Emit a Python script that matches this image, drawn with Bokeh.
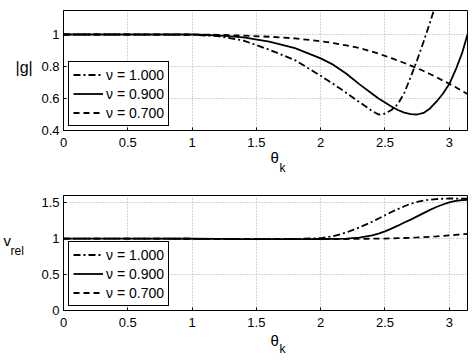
import math
from bokeh.plotting import figure
from bokeh.layouts import column
from bokeh.models import Label, Legend, LegendItem, FixedTicker
from bokeh.embed import file_html
from bokeh.resources import INLINE

# ---------------- data ----------------
theta = [0.0, 0.5, 1.0, 1.2, 1.4, 1.6, 1.8, 2.0, 2.1, 2.2, 2.3, 2.4, 2.45, 2.5,
         2.55, 2.6, 2.65, 2.7, 2.75, 2.8, 2.85, 2.9, 2.95, 3.0, 3.05, 3.1, math.pi]

nan = float("nan")
g_nu100 = [1.0, 1.0, 0.998, 0.99, 0.962, 0.905, 0.84, 0.742, 0.69, 0.635, 0.578, 0.522, 0.50, 0.505,
           0.528, 0.565, 0.635, 0.735, 0.84, 0.955, 1.075, 1.2, nan, nan, nan, nan, nan]
g_nu090 = [1.0, 1.0, 1.0, 0.995, 0.982, 0.955, 0.915, 0.851, 0.81, 0.755, 0.69, 0.63, 0.60, 0.575,
           0.55, 0.528, 0.512, 0.502, 0.50, 0.51, 0.538, 0.58, 0.63, 0.69, 0.78, 0.885, 1.0]
g_nu070 = [1.0, 1.0, 1.0, 0.998, 0.993, 0.986, 0.976, 0.958, 0.946, 0.932, 0.915, 0.893, 0.88, 0.866,
           0.852, 0.838, 0.822, 0.806, 0.79, 0.772, 0.753, 0.733, 0.712, 0.692, 0.67, 0.647, 0.628]

v_nu100 = [1.0, 1.0, 0.998, 0.996, 0.994, 0.993, 0.995, 1.006, 1.035, 1.085, 1.155, 1.235, 1.28, 1.325,
           1.37, 1.41, 1.45, 1.485, 1.51, 1.53, 1.542, 1.55, 1.555, 1.558, 1.558, 1.556, 1.555]
v_nu090 = [1.0, 1.0, 0.998, 0.996, 0.994, 0.993, 0.994, 0.995, 0.997, 1.0, 1.015, 1.045, 1.07, 1.10,
           1.14, 1.18, 1.225, 1.265, 1.31, 1.355, 1.40, 1.44, 1.475, 1.505, 1.525, 1.537, 1.54]
v_nu070 = [1.0, 1.0, 0.998, 0.996, 0.994, 0.993, 0.994, 0.993, 0.994, 0.995, 0.997, 0.999, 1.0, 1.001,
           1.003, 1.006, 1.009, 1.012, 1.016, 1.021, 1.026, 1.032, 1.039, 1.046, 1.053, 1.061, 1.065]

series_labels = ["\u03bd = 1.000", "\u03bd = 0.900", "\u03bd = 0.700"]
x_ticks = [0, 0.5, 1, 1.5, 2, 2.5, 3]
x_tick_labels = ["0", "0.5", "1", "1.5", "2", "2.5", "3"]
y1_ticks = [0.4, 0.6, 0.8, 1.0]
y1_tick_labels = ["0.4", "0.6", "0.8", "1"]
y2_ticks = [0, 0.5, 1.0, 1.5]
y2_tick_labels = ["0", "0.5", "1", "1.5"]

FONT = "Liberation Sans"
styles = [dict(line_dash="7 3 2 3"), dict(line_dash="solid"), dict(line_dash="6 4")]


def make_fig(height, border_top, border_bottom, y_range, yticks, ylabels, series):
    p = figure(width=470, height=height, x_range=(0, math.pi), y_range=y_range,
               output_backend="svg", toolbar_location=None,
               min_border_left=63, min_border_right=3,
               min_border_top=border_top, min_border_bottom=border_bottom)
    p.background_fill_color = "white"
    p.border_fill_color = "white"
    p.outline_line_color = "black"
    p.outline_line_width = 1
    p.outline_line_alpha = 1

    p.xaxis.ticker = FixedTicker(ticks=x_ticks)
    p.xaxis.major_label_overrides = {t: l for t, l in zip(x_ticks, x_tick_labels)}
    p.yaxis.ticker = FixedTicker(ticks=yticks)
    p.yaxis.major_label_overrides = {t: l for t, l in zip(yticks, ylabels)}
    for ax in (p.xaxis, p.yaxis):
        ax.major_tick_in = 3
        ax.major_tick_out = 0
        ax.minor_tick_line_color = None
        ax.axis_line_color = "black"
        ax.major_tick_line_color = "black"
        ax.major_label_text_font = FONT
        ax.major_label_text_font_size = "13px"
        ax.major_label_text_color = "black"
    p.xaxis.major_label_standoff = 7
    p.yaxis.major_label_standoff = 4

    p.grid.grid_line_color = "#a8a8a8"
    p.grid.grid_line_dash = "1 2"
    p.grid.grid_line_width = 1

    items = []
    for ys, lab, st in zip(series, series_labels, styles):
        r = p.line(theta, ys, line_color="black", line_width=1.8, **st)
        items.append(LegendItem(label=lab, renderers=[r]))
    leg = Legend(items=items, location=(5, 4))
    leg.border_line_color = "black"
    leg.border_line_width = 1
    leg.border_line_alpha = 1
    leg.background_fill_color = "white"
    leg.background_fill_alpha = 1
    leg.label_text_font = FONT
    leg.label_text_font_size = "14px"
    leg.label_text_color = "black"
    leg.glyph_width = 30
    leg.glyph_height = 17
    leg.label_height = 17
    leg.label_standoff = 3
    leg.padding = 4
    leg.spacing = 2
    leg.margin = 0
    p.add_layout(leg, "center")
    return p


p1 = make_fig(180, 10, 44, (0.4, 1.15), y1_ticks, y1_tick_labels, [g_nu100, g_nu090, g_nu070])
p2 = make_fig(180, 15, 40, (0.0, 1.6), y2_ticks, y2_tick_labels, [v_nu100, v_nu090, v_nu070])


def lab(p, side, text, x, y, xo, yo, size):
    p.add_layout(Label(x=x, y=y, x_offset=xo, y_offset=yo, text=text,
                       text_font=FONT, text_font_size=size, text_color="black",
                       text_align="left", text_baseline="alphabetic"), side)


# top labels
lab(p1, "left", "|g|", 0, 1.0, -48, -33, "16px")
lab(p1, "below", "\u03b8", 1.5, 0.4, 14, -27, "15px")
lab(p1, "below", "k", 1.5, 0.4, 23, -37, "12px")
# bottom labels
lab(p2, "left", "v", 0, 1.0, -60, -2, "15px")
lab(p2, "left", "rel", 0, 1.0, -53, -12, "12px")
lab(p2, "below", "\u03b8", 1.5, 0.0, 14, -30, "15px")
lab(p2, "below", "k", 1.5, 0.0, 23, -38, "12px")

layout = column(p1, p2, spacing=0)
open("out.html", "w").write(file_html(layout, INLINE))
